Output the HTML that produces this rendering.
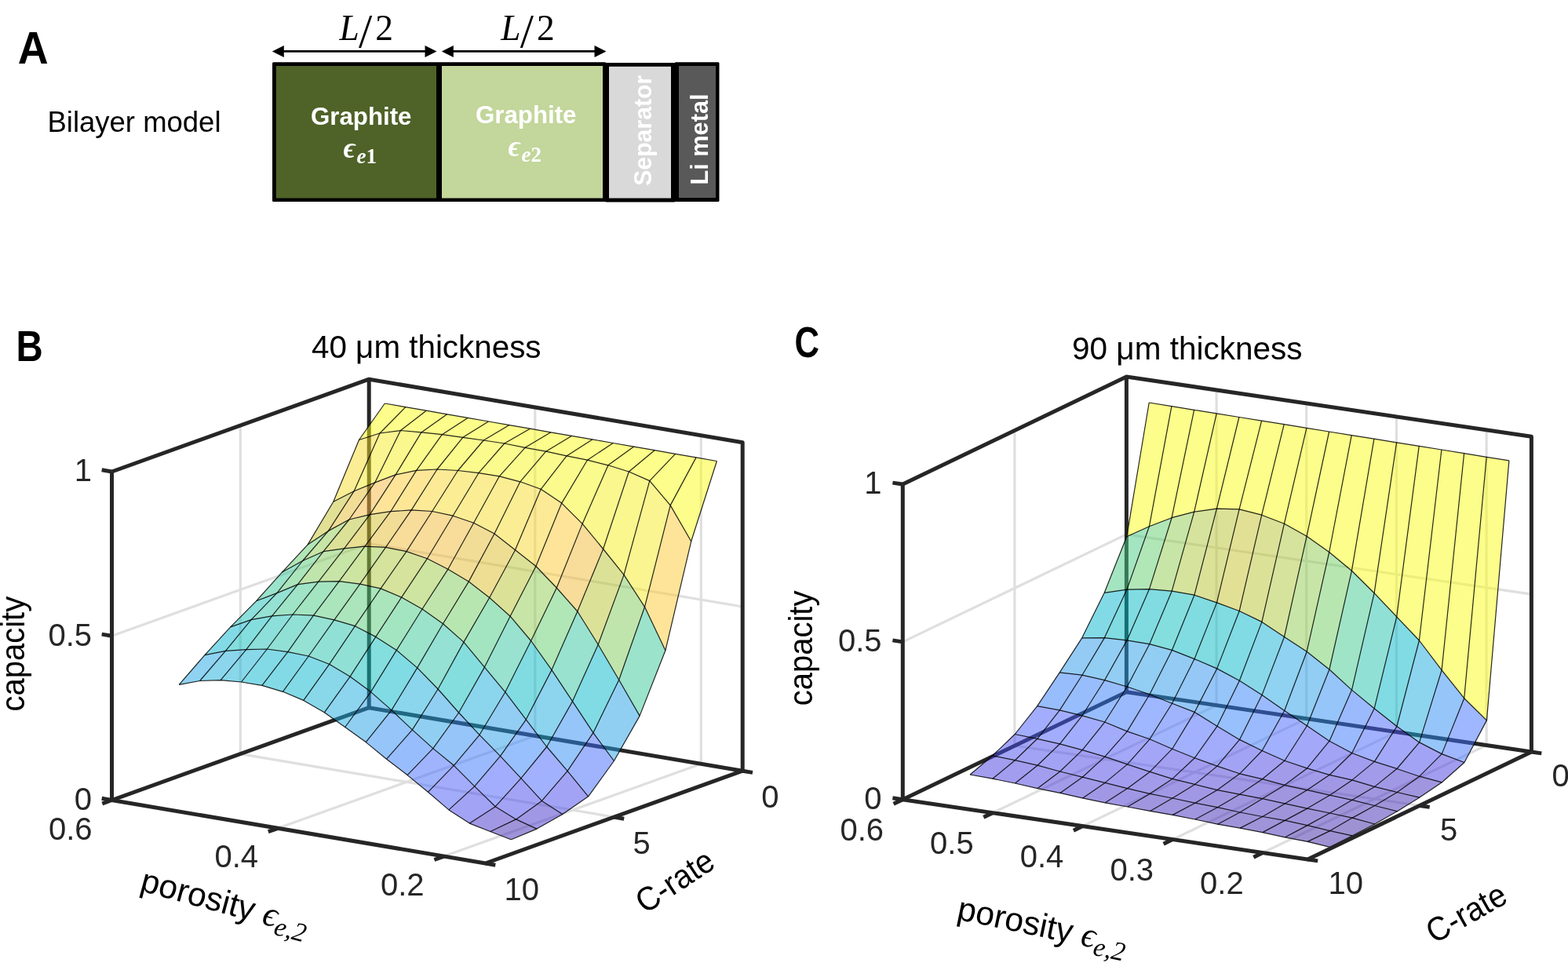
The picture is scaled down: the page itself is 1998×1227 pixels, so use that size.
<!DOCTYPE html><html><head><meta charset="utf-8"><title>Bilayer model capacity</title><style>html,body{margin:0;padding:0;background:#fff;}svg{display:block;}</style></head><body>
<svg width="1998" height="1227" viewBox="0 0 1998 1227">
<rect x="0" y="0" width="1998" height="1227" fill="#fff"/>
<text x="22.7" y="81.3" font-family="'Liberation Sans', Arial, sans-serif" font-weight="bold" font-size="56.5" textLength="38.9" lengthAdjust="spacingAndGlyphs">A</text>
<text x="60.5" y="168.3" font-family="'Liberation Sans', Arial, sans-serif" font-size="36.6" textLength="221" lengthAdjust="spacingAndGlyphs">Bilayer model</text>
<text font-family="'Liberation Serif', serif" font-size="45.4" y="50.8"><tspan x="432.5" font-style="italic">L</tspan><tspan x="457" font-size="62" dy="9.2">/</tspan><tspan x="478.2" dy="-9.2">2</tspan></text>
<text font-family="'Liberation Serif', serif" font-size="45.4" y="50.8"><tspan x="638.2" font-style="italic">L</tspan><tspan x="662.7" font-size="62" dy="9.2">/</tspan><tspan x="683.9" dy="-9.2">2</tspan></text>
<line x1="356.8" y1="65.4" x2="546.5" y2="65.4" stroke="#000" stroke-width="2.8"/>
<polygon points="346.8,65.4 361.8,57.9 361.8,72.9" fill="#000"/>
<polygon points="556.5,65.4 541.5,57.9 541.5,72.9" fill="#000"/>
<line x1="572.8" y1="65.4" x2="762.5" y2="65.4" stroke="#000" stroke-width="2.8"/>
<polygon points="562.8,65.4 577.8,57.9 577.8,72.9" fill="#000"/>
<polygon points="772.5,65.4 757.5,57.9 757.5,72.9" fill="#000"/>
<rect x="347" y="79.3" width="425.5" height="177.8" rx="1.5" fill="#000"/>
<rect x="771" y="80" width="89.5" height="177.5" rx="1.5" fill="#000"/>
<rect x="859.5" y="79.3" width="57" height="177.8" rx="1.5" fill="#000"/>
<rect x="351.8" y="84" width="204.2" height="168.5" fill="#4f6228"/>
<rect x="563" y="84" width="205" height="168.5" fill="#c3d69b"/>
<rect x="776" y="84.8" width="79" height="167.7" fill="#d9d9d9"/>
<rect x="865" y="84" width="47" height="168" fill="#595959"/>
<text x="396" y="159.1" font-family="'Liberation Sans', Arial, sans-serif" font-weight="bold" font-size="31.3" fill="#fff" textLength="128.5" lengthAdjust="spacingAndGlyphs">Graphite</text>
<text x="606" y="157.1" font-family="'Liberation Sans', Arial, sans-serif" font-weight="bold" font-size="31.3" fill="#fff" textLength="128.5" lengthAdjust="spacingAndGlyphs">Graphite</text>
<text x="437.6" y="201" font-family="'Liberation Serif', serif" font-weight="bold" font-size="37" fill="#fff"><tspan font-style="italic">ϵ</tspan><tspan font-size="27" dy="7.2" dx="1" font-style="italic">e</tspan><tspan font-size="27">1</tspan></text>
<text x="647.6" y="199" font-family="'Liberation Serif', serif" font-weight="bold" font-size="37" fill="#fff"><tspan font-style="italic">ϵ</tspan><tspan font-size="27" dy="7.2" dx="1" font-style="italic">e</tspan><tspan font-size="27">2</tspan></text>
<text transform="translate(830,236.8) rotate(-90)" font-family="'Liberation Sans', Arial, sans-serif" font-weight="bold" font-size="31.3" fill="#fff" textLength="141" lengthAdjust="spacingAndGlyphs">Separator</text>
<text transform="translate(902.2,235.5) rotate(-90)" font-family="'Liberation Sans', Arial, sans-serif" font-weight="bold" font-size="31.3" fill="#fff" textLength="116" lengthAdjust="spacingAndGlyphs">Li metal</text>
<g stroke-linecap="butt"><line x1="306.3" y1="960.6" x2="306.3" y2="542.1" stroke="#dfdfdf" stroke-width="3.2"/><line x1="470.2" y1="692.5" x2="142.5" y2="810.2" stroke="#dfdfdf" stroke-width="3.2"/><line x1="681.8" y1="937.5" x2="681.8" y2="519" stroke="#dfdfdf" stroke-width="3.2"/><line x1="893.3" y1="973.3" x2="893.3" y2="554.8" stroke="#dfdfdf" stroke-width="3.2"/><line x1="470.2" y1="692.5" x2="946.2" y2="773" stroke="#dfdfdf" stroke-width="3.2"/><line x1="681.8" y1="937.5" x2="354.1" y2="1055.3" stroke="#dfdfdf" stroke-width="3.2"/><line x1="893.3" y1="973.3" x2="565.6" y2="1091.1" stroke="#dfdfdf" stroke-width="3.2"/><line x1="306.3" y1="960.6" x2="782.4" y2="1041.1" stroke="#dfdfdf" stroke-width="3.2"/></g>
<polyline points="142.5,1019.5 470.2,901.7 946.2,982.2" fill="none" stroke="#262626" stroke-width="5.0" stroke-linejoin="round"/><polyline points="142.5,601 470.2,483.2 946.2,563.7 946.2,982.2" fill="none" stroke="#262626" stroke-width="5.0" stroke-linejoin="round"/><line x1="470.2" y1="901.7" x2="470.2" y2="483.2" stroke="#262626" stroke-width="5.0"/>
<g fill-opacity="0.5" stroke="none"><polygon points="490.3,514 516.8,518.6 484,552 457.5,560.5" fill="#f9fb15"/><polygon points="516.8,518.6 543.2,523.2 510.4,548.5 484,552" fill="#f9fb15"/><polygon points="543.2,523.2 569.7,527.8 536.9,550.9 510.4,548.5" fill="#f9fb15"/><polygon points="569.7,527.8 596.1,532.4 563.3,553.7 536.9,550.9" fill="#f9fb15"/><polygon points="596.1,532.4 622.5,537 589.8,557.3 563.3,553.7" fill="#f9fb15"/><polygon points="622.5,537 649,541.6 616.2,561 589.8,557.3" fill="#f9fb15"/><polygon points="649,541.6 675.4,546.2 642.7,565 616.2,561" fill="#f9fb15"/><polygon points="675.4,546.2 701.9,550.8 669.1,570.3 642.7,565" fill="#f9fb15"/><polygon points="701.9,550.8 728.3,555.4 695.6,575.2 669.1,570.3" fill="#f9fb15"/><polygon points="728.3,555.4 754.8,559.9 722,580.9 695.6,575.2" fill="#f9fb15"/><polygon points="754.8,559.9 781.2,564.5 748.4,586.2 722,580.9" fill="#f9fb15"/><polygon points="781.2,564.5 807.7,569.1 774.9,592.8 748.4,586.2" fill="#f9fb15"/><polygon points="807.7,569.1 834.1,573.7 801.3,601 774.9,592.8" fill="#f9fb15"/><polygon points="834.1,573.7 860.5,578.3 827.8,612.6 801.3,601" fill="#f9fb15"/><polygon points="860.5,578.3 887,582.9 854.2,643.9 827.8,612.6" fill="#f9fb15"/><polygon points="887,582.9 913.4,587.5 880.7,689.8 854.2,643.9" fill="#f9fb15"/><polygon points="457.5,560.5 484,552 451.2,625.7 424.8,639.2" fill="#f7dc2a"/><polygon points="484,552 510.4,548.5 477.7,614.9 451.2,625.7" fill="#f5e924"/><polygon points="510.4,548.5 536.9,550.9 504.1,604.9 477.7,614.9" fill="#f6ef20"/><polygon points="536.9,550.9 563.3,553.7 530.6,599.4 504.1,604.9" fill="#f7f51b"/><polygon points="563.3,553.7 589.8,557.3 557,598 530.6,599.4" fill="#f7f51b"/><polygon points="589.8,557.3 616.2,561 583.5,599.5 557,598" fill="#f7f51b"/><polygon points="616.2,561 642.7,565 609.9,602.7 583.5,599.5" fill="#f7f51b"/><polygon points="642.7,565 669.1,570.3 636.3,606.8 609.9,602.7" fill="#f7f51b"/><polygon points="669.1,570.3 695.6,575.2 662.8,613.8 636.3,606.8" fill="#f7f51b"/><polygon points="695.6,575.2 722,580.9 689.2,623.3 662.8,613.8" fill="#f7f51b"/><polygon points="722,580.9 748.4,586.2 715.7,641.1 689.2,623.3" fill="#f7f51b"/><polygon points="748.4,586.2 774.9,592.8 742.1,667.4 715.7,641.1" fill="#f7f51b"/><polygon points="774.9,592.8 801.3,601 768.6,699.5 742.1,667.4" fill="#f6ef20"/><polygon points="801.3,601 827.8,612.6 795,732.4 768.6,699.5" fill="#f6ef20"/><polygon points="827.8,612.6 854.2,643.9 821.5,773.3 795,732.4" fill="#f5e924"/><polygon points="854.2,643.9 880.7,689.8 847.9,828.8 821.5,773.3" fill="#fec934"/><polygon points="424.8,639.2 451.2,625.7 418.5,676.4 392,694.1" fill="#c5c22a"/><polygon points="451.2,625.7 477.7,614.9 444.9,662 418.5,676.4" fill="#e6bb2d"/><polygon points="477.7,614.9 504.1,604.9 471.3,655.6 444.9,662" fill="#f8ba3d"/><polygon points="504.1,604.9 530.6,599.4 497.8,651.7 471.3,655.6" fill="#fec934"/><polygon points="530.6,599.4 557,598 524.2,649.9 497.8,651.7" fill="#fccf30"/><polygon points="557,598 583.5,599.5 550.7,651.5 524.2,649.9" fill="#fad62d"/><polygon points="583.5,599.5 609.9,602.7 577.1,657.2 550.7,651.5" fill="#f7dc2a"/><polygon points="609.9,602.7 636.3,606.8 603.6,666.3 577.1,657.2" fill="#f7dc2a"/><polygon points="636.3,606.8 662.8,613.8 630,680 603.6,666.3" fill="#f7dc2a"/><polygon points="662.8,613.8 689.2,623.3 656.5,700.8 630,680" fill="#f7dc2a"/><polygon points="689.2,623.3 715.7,641.1 682.9,721.5 656.5,700.8" fill="#fad62d"/><polygon points="715.7,641.1 742.1,667.4 709.3,749 682.9,721.5" fill="#fec934"/><polygon points="742.1,667.4 768.6,699.5 735.8,779 709.3,749" fill="#f0ba36"/><polygon points="768.6,699.5 795,732.4 762.2,821.2 735.8,779" fill="#b9c431"/><polygon points="795,732.4 821.5,773.3 788.7,866.2 762.2,821.2" fill="#81cc59"/><polygon points="821.5,773.3 847.9,828.8 815.1,912.1 788.7,866.2" fill="#37c897"/><polygon points="392,694.1 418.5,676.4 385.7,714.5 359.2,729.3" fill="#64cd6f"/><polygon points="418.5,676.4 444.9,662 412.1,702.7 385.7,714.5" fill="#8fcb4e"/><polygon points="444.9,662 471.3,655.6 438.6,698.8 412.1,702.7" fill="#b9c431"/><polygon points="471.3,655.6 497.8,651.7 465,696.2 438.6,698.8" fill="#d1bf27"/><polygon points="497.8,651.7 524.2,649.9 491.5,697.3 465,696.2" fill="#e6bb2d"/><polygon points="524.2,649.9 550.7,651.5 517.9,702.6 491.5,697.3" fill="#f0ba36"/><polygon points="550.7,651.5 577.1,657.2 544.4,711.7 517.9,702.6" fill="#f0ba36"/><polygon points="577.1,657.2 603.6,666.3 570.8,725.3 544.4,711.7" fill="#f0ba36"/><polygon points="603.6,666.3 630,680 597.2,741.1 570.8,725.3" fill="#e6bb2d"/><polygon points="630,680 656.5,700.8 623.7,761.5 597.2,741.1" fill="#dcbd29"/><polygon points="656.5,700.8 682.9,721.5 650.1,785.2 623.7,761.5" fill="#b9c431"/><polygon points="682.9,721.5 709.3,749 676.6,816.5 650.1,785.2" fill="#8fcb4e"/><polygon points="709.3,749 735.8,779 703,853.6 676.6,816.5" fill="#64cd6f"/><polygon points="735.8,779 762.2,821.2 729.5,893.6 703,853.6" fill="#31c69f"/><polygon points="762.2,821.2 788.7,866.2 755.9,933.7 729.5,893.6" fill="#01b8ca"/><polygon points="788.7,866.2 815.1,912.1 782.4,969.5 755.9,933.7" fill="#23a0e5"/><polygon points="359.2,729.3 385.7,714.5 352.9,755.6 326.5,765.8" fill="#37c897"/><polygon points="385.7,714.5 412.1,702.7 379.4,744.6 352.9,755.6" fill="#57cc7a"/><polygon points="412.1,702.7 438.6,698.8 405.8,741.1 379.4,744.6" fill="#81cc59"/><polygon points="438.6,698.8 465,696.2 432.2,740.6 405.8,741.1" fill="#8fcb4e"/><polygon points="465,696.2 491.5,697.3 458.7,744.2 432.2,740.6" fill="#9dc943"/><polygon points="491.5,697.3 517.9,702.6 485.1,749.9 458.7,744.2" fill="#abc739"/><polygon points="517.9,702.6 544.4,711.7 511.6,761.1 485.1,749.9" fill="#abc739"/><polygon points="544.4,711.7 570.8,725.3 538,776 511.6,761.1" fill="#9dc943"/><polygon points="570.8,725.3 597.2,741.1 564.5,794.8 538,776" fill="#81cc59"/><polygon points="597.2,741.1 623.7,761.5 590.9,818.1 564.5,794.8" fill="#72cd64"/><polygon points="623.7,761.5 650.1,785.2 617.4,850.1 590.9,818.1" fill="#4acb84"/><polygon points="650.1,785.2 676.6,816.5 643.8,881.8 617.4,850.1" fill="#31c69f"/><polygon points="676.6,816.5 703,853.6 670.3,916.8 643.8,881.8" fill="#02bac3"/><polygon points="703,853.6 729.5,893.6 696.7,951.5 670.3,916.8" fill="#1ca9df"/><polygon points="729.5,893.6 755.9,933.7 723.1,982.3 696.7,951.5" fill="#2d8cf3"/><polygon points="755.9,933.7 782.4,969.5 749.6,1014.8 723.1,982.3" fill="#4269fe"/><polygon points="326.5,765.8 352.9,755.6 320.1,789.6 293.7,798.9" fill="#19bfb6"/><polygon points="352.9,755.6 379.4,744.6 346.6,784.8 320.1,789.6" fill="#2cc4a7"/><polygon points="379.4,744.6 405.8,741.1 373,783 346.6,784.8" fill="#3fca8e"/><polygon points="405.8,741.1 432.2,740.6 399.5,784.2 373,783" fill="#4acb84"/><polygon points="432.2,740.6 458.7,744.2 425.9,789.9 399.5,784.2" fill="#57cc7a"/><polygon points="458.7,744.2 485.1,749.9 452.4,797.7 425.9,789.9" fill="#57cc7a"/><polygon points="485.1,749.9 511.6,761.1 478.8,811.4 452.4,797.7" fill="#57cc7a"/><polygon points="511.6,761.1 538,776 505.3,828.4 478.8,811.4" fill="#4acb84"/><polygon points="538,776 564.5,794.8 531.7,850.9 505.3,828.4" fill="#37c897"/><polygon points="564.5,794.8 590.9,818.1 558.1,878 531.7,850.9" fill="#2cc4a7"/><polygon points="590.9,818.1 617.4,850.1 584.6,908 558.1,878" fill="#0bbdbd"/><polygon points="617.4,850.1 643.8,881.8 611,936.3 584.6,908" fill="#18addb"/><polygon points="643.8,881.8 670.3,916.8 637.5,963.4 611,936.3" fill="#259be8"/><polygon points="670.3,916.8 696.7,951.5 663.9,991.7 637.5,963.4" fill="#2f81fa"/><polygon points="696.7,951.5 723.1,982.3 690.4,1020.4 663.9,991.7" fill="#4563fd"/><polygon points="723.1,982.3 749.6,1014.8 716.8,1037.5 690.4,1020.4" fill="#4747eb"/><polygon points="293.7,798.9 320.1,789.6 287.4,829.4 260.9,834.6" fill="#08b5d0"/><polygon points="320.1,789.6 346.6,784.8 313.8,827.6 287.4,829.4" fill="#0bbdbd"/><polygon points="346.6,784.8 373,783 340.3,827 313.8,827.6" fill="#19bfb6"/><polygon points="373,783 399.5,784.2 366.7,830.7 340.3,827" fill="#24c1ae"/><polygon points="399.5,784.2 425.9,789.9 393.2,836 366.7,830.7" fill="#2cc4a7"/><polygon points="425.9,789.9 452.4,797.7 419.6,846.3 393.2,836" fill="#24c1ae"/><polygon points="452.4,797.7 478.8,811.4 446,862.1 419.6,846.3" fill="#24c1ae"/><polygon points="478.8,811.4 505.3,828.4 472.5,881.6 446,862.1" fill="#0bbdbd"/><polygon points="505.3,828.4 531.7,850.9 498.9,904.9 472.5,881.6" fill="#01b8ca"/><polygon points="531.7,850.9 558.1,878 525.4,929.9 498.9,904.9" fill="#18addb"/><polygon points="558.1,878 584.6,908 551.8,953.6 525.4,929.9" fill="#23a0e5"/><polygon points="584.6,908 611,936.3 578.3,975.3 551.8,953.6" fill="#2d8cf3"/><polygon points="611,936.3 637.5,963.4 604.7,1001.9 578.3,975.3" fill="#3875fe"/><polygon points="637.5,963.4 663.9,991.7 631.2,1027.7 604.7,1001.9" fill="#465efb"/><polygon points="663.9,991.7 690.4,1020.4 657.6,1043.9 631.2,1027.7" fill="#4747eb"/><polygon points="690.4,1020.4 716.8,1037.5 684,1056.1 657.6,1043.9" fill="#4332cb"/><polygon points="260.9,834.6 287.4,829.4 254.6,867.5 228.2,872.3" fill="#20a5e3"/><polygon points="287.4,829.4 313.8,827.6 281.1,866.6 254.6,867.5" fill="#18addb"/><polygon points="313.8,827.6 340.3,827 307.5,869 281.1,866.6" fill="#12b1d6"/><polygon points="340.3,827 366.7,830.7 333.9,873.4 307.5,869" fill="#08b5d0"/><polygon points="366.7,830.7 393.2,836 360.4,881.3 333.9,873.4" fill="#08b5d0"/><polygon points="393.2,836 419.6,846.3 386.8,892.4 360.4,881.3" fill="#08b5d0"/><polygon points="419.6,846.3 446,862.1 413.3,907.8 386.8,892.4" fill="#12b1d6"/><polygon points="446,862.1 472.5,881.6 439.7,926.5 413.3,907.8" fill="#1ca9df"/><polygon points="472.5,881.6 498.9,904.9 466.2,945.6 439.7,926.5" fill="#23a0e5"/><polygon points="498.9,904.9 525.4,929.9 492.6,967.2 466.2,945.6" fill="#2d8cf3"/><polygon points="525.4,929.9 551.8,953.6 519.1,987.6 492.6,967.2" fill="#327cfc"/><polygon points="551.8,953.6 578.3,975.3 545.5,1009.2 519.1,987.6" fill="#4269fe"/><polygon points="578.3,975.3 604.7,1001.9 571.9,1031.9 545.5,1009.2" fill="#4758f8"/><polygon points="604.7,1001.9 631.2,1027.7 598.4,1049.1 571.9,1031.9" fill="#4747eb"/><polygon points="631.2,1027.7 657.6,1043.9 624.8,1059.5 598.4,1049.1" fill="#4332cb"/><polygon points="657.6,1043.9 684,1056.1 651.3,1069.8 624.8,1059.5" fill="#402ab4"/></g>
<g fill="none" stroke="#000" stroke-opacity="0.85" stroke-width="1.2" stroke-linejoin="round"><polyline points="490.3,514 516.8,518.6 543.2,523.2 569.7,527.8 596.1,532.4 622.5,537 649,541.6 675.4,546.2 701.9,550.8 728.3,555.4 754.8,559.9 781.2,564.5 807.7,569.1 834.1,573.7 860.5,578.3 887,582.9 913.4,587.5"/><polyline points="457.5,560.5 484,552 510.4,548.5 536.9,550.9 563.3,553.7 589.8,557.3 616.2,561 642.7,565 669.1,570.3 695.6,575.2 722,580.9 748.4,586.2 774.9,592.8 801.3,601 827.8,612.6 854.2,643.9 880.7,689.8"/><polyline points="424.8,639.2 451.2,625.7 477.7,614.9 504.1,604.9 530.6,599.4 557,598 583.5,599.5 609.9,602.7 636.3,606.8 662.8,613.8 689.2,623.3 715.7,641.1 742.1,667.4 768.6,699.5 795,732.4 821.5,773.3 847.9,828.8"/><polyline points="392,694.1 418.5,676.4 444.9,662 471.3,655.6 497.8,651.7 524.2,649.9 550.7,651.5 577.1,657.2 603.6,666.3 630,680 656.5,700.8 682.9,721.5 709.3,749 735.8,779 762.2,821.2 788.7,866.2 815.1,912.1"/><polyline points="359.2,729.3 385.7,714.5 412.1,702.7 438.6,698.8 465,696.2 491.5,697.3 517.9,702.6 544.4,711.7 570.8,725.3 597.2,741.1 623.7,761.5 650.1,785.2 676.6,816.5 703,853.6 729.5,893.6 755.9,933.7 782.4,969.5"/><polyline points="326.5,765.8 352.9,755.6 379.4,744.6 405.8,741.1 432.2,740.6 458.7,744.2 485.1,749.9 511.6,761.1 538,776 564.5,794.8 590.9,818.1 617.4,850.1 643.8,881.8 670.3,916.8 696.7,951.5 723.1,982.3 749.6,1014.8"/><polyline points="293.7,798.9 320.1,789.6 346.6,784.8 373,783 399.5,784.2 425.9,789.9 452.4,797.7 478.8,811.4 505.3,828.4 531.7,850.9 558.1,878 584.6,908 611,936.3 637.5,963.4 663.9,991.7 690.4,1020.4 716.8,1037.5"/><polyline points="260.9,834.6 287.4,829.4 313.8,827.6 340.3,827 366.7,830.7 393.2,836 419.6,846.3 446,862.1 472.5,881.6 498.9,904.9 525.4,929.9 551.8,953.6 578.3,975.3 604.7,1001.9 631.2,1027.7 657.6,1043.9 684,1056.1"/><polyline points="228.2,872.3 254.6,867.5 281.1,866.6 307.5,869 333.9,873.4 360.4,881.3 386.8,892.4 413.3,907.8 439.7,926.5 466.2,945.6 492.6,967.2 519.1,987.6 545.5,1009.2 571.9,1031.9 598.4,1049.1 624.8,1059.5 651.3,1069.8"/><polyline points="490.3,514 457.5,560.5 424.8,639.2 392,694.1 359.2,729.3 326.5,765.8 293.7,798.9 260.9,834.6 228.2,872.3"/><polyline points="516.8,518.6 484,552 451.2,625.7 418.5,676.4 385.7,714.5 352.9,755.6 320.1,789.6 287.4,829.4 254.6,867.5"/><polyline points="543.2,523.2 510.4,548.5 477.7,614.9 444.9,662 412.1,702.7 379.4,744.6 346.6,784.8 313.8,827.6 281.1,866.6"/><polyline points="569.7,527.8 536.9,550.9 504.1,604.9 471.3,655.6 438.6,698.8 405.8,741.1 373,783 340.3,827 307.5,869"/><polyline points="596.1,532.4 563.3,553.7 530.6,599.4 497.8,651.7 465,696.2 432.2,740.6 399.5,784.2 366.7,830.7 333.9,873.4"/><polyline points="622.5,537 589.8,557.3 557,598 524.2,649.9 491.5,697.3 458.7,744.2 425.9,789.9 393.2,836 360.4,881.3"/><polyline points="649,541.6 616.2,561 583.5,599.5 550.7,651.5 517.9,702.6 485.1,749.9 452.4,797.7 419.6,846.3 386.8,892.4"/><polyline points="675.4,546.2 642.7,565 609.9,602.7 577.1,657.2 544.4,711.7 511.6,761.1 478.8,811.4 446,862.1 413.3,907.8"/><polyline points="701.9,550.8 669.1,570.3 636.3,606.8 603.6,666.3 570.8,725.3 538,776 505.3,828.4 472.5,881.6 439.7,926.5"/><polyline points="728.3,555.4 695.6,575.2 662.8,613.8 630,680 597.2,741.1 564.5,794.8 531.7,850.9 498.9,904.9 466.2,945.6"/><polyline points="754.8,559.9 722,580.9 689.2,623.3 656.5,700.8 623.7,761.5 590.9,818.1 558.1,878 525.4,929.9 492.6,967.2"/><polyline points="781.2,564.5 748.4,586.2 715.7,641.1 682.9,721.5 650.1,785.2 617.4,850.1 584.6,908 551.8,953.6 519.1,987.6"/><polyline points="807.7,569.1 774.9,592.8 742.1,667.4 709.3,749 676.6,816.5 643.8,881.8 611,936.3 578.3,975.3 545.5,1009.2"/><polyline points="834.1,573.7 801.3,601 768.6,699.5 735.8,779 703,853.6 670.3,916.8 637.5,963.4 604.7,1001.9 571.9,1031.9"/><polyline points="860.5,578.3 827.8,612.6 795,732.4 762.2,821.2 729.5,893.6 696.7,951.5 663.9,991.7 631.2,1027.7 598.4,1049.1"/><polyline points="887,582.9 854.2,643.9 821.5,773.3 788.7,866.2 755.9,933.7 723.1,982.3 690.4,1020.4 657.6,1043.9 624.8,1059.5"/><polyline points="913.4,587.5 880.7,689.8 847.9,828.8 815.1,912.1 782.4,969.5 749.6,1014.8 716.8,1037.5 684,1056.1 651.3,1069.8"/></g>
<g stroke="#262626" stroke-width="5.0"><line x1="142.5" y1="1019.5" x2="129.7" y2="1017.3"/><line x1="142.5" y1="810.2" x2="129.7" y2="808.1"/><line x1="142.5" y1="601" x2="129.7" y2="598.8"/><line x1="142.5" y1="1019.5" x2="130.3" y2="1023.9"/><line x1="354.1" y1="1055.3" x2="341.8" y2="1059.7"/><line x1="565.6" y1="1091.1" x2="553.4" y2="1095.5"/><line x1="946.2" y1="982.2" x2="959" y2="984.4"/><line x1="782.4" y1="1041.1" x2="795.2" y2="1043.3"/><line x1="618.5" y1="1100" x2="631.3" y2="1102.2"/></g>
<polyline points="142.5,601 142.5,1019.5 618.5,1100 946.2,982.2" fill="none" stroke="#262626" stroke-width="5.0" stroke-linejoin="round"/>
<g font-family="'Liberation Sans', Arial, sans-serif" font-size="40" fill="#262626"><text x="117" y="1031.8" text-anchor="end">0</text><text x="117" y="822.5" text-anchor="end">0.5</text><text x="117" y="613.3" text-anchor="end">1</text><text x="117.5" y="1069.5" text-anchor="end">0.6</text><text x="329.1" y="1105.3" text-anchor="end">0.4</text><text x="540.6" y="1141.1" text-anchor="end">0.2</text><text x="970.2" y="1028.7">0</text><text x="806.4" y="1087.6">5</text><text x="642.5" y="1146.5">10</text></g>
<g stroke-linecap="butt"><line x1="1292.9" y1="950.2" x2="1292.9" y2="548.5" stroke="#dfdfdf" stroke-width="3.2"/><line x1="1435.4" y1="680.9" x2="1150.3" y2="817.9" stroke="#dfdfdf" stroke-width="3.2"/><line x1="1550.1" y1="898.7" x2="1550.1" y2="497" stroke="#dfdfdf" stroke-width="3.2"/><line x1="1664.7" y1="915.6" x2="1664.7" y2="513.9" stroke="#dfdfdf" stroke-width="3.2"/><line x1="1779.4" y1="932.6" x2="1779.4" y2="530.9" stroke="#dfdfdf" stroke-width="3.2"/><line x1="1894.1" y1="949.5" x2="1894.1" y2="547.8" stroke="#dfdfdf" stroke-width="3.2"/><line x1="1435.4" y1="680.9" x2="1951.4" y2="757.2" stroke="#dfdfdf" stroke-width="3.2"/><line x1="1550.1" y1="898.7" x2="1265" y2="1035.7" stroke="#dfdfdf" stroke-width="3.2"/><line x1="1664.7" y1="915.6" x2="1379.6" y2="1052.6" stroke="#dfdfdf" stroke-width="3.2"/><line x1="1779.4" y1="932.6" x2="1494.3" y2="1069.6" stroke="#dfdfdf" stroke-width="3.2"/><line x1="1894.1" y1="949.5" x2="1609" y2="1086.5" stroke="#dfdfdf" stroke-width="3.2"/><line x1="1292.9" y1="950.2" x2="1808.9" y2="1026.5" stroke="#dfdfdf" stroke-width="3.2"/></g>
<polyline points="1150.3,1018.7 1435.4,881.7 1951.4,958" fill="none" stroke="#262626" stroke-width="5.0" stroke-linejoin="round"/><polyline points="1150.3,617 1435.4,480 1951.4,556.3 1951.4,958" fill="none" stroke="#262626" stroke-width="5.0" stroke-linejoin="round"/><line x1="1435.4" y1="881.7" x2="1435.4" y2="480" stroke="#262626" stroke-width="5.0"/>
<g fill-opacity="0.5" stroke="none"><polygon points="1464.2,513 1492.9,517.6 1464.4,670.8 1435.7,683.8" fill="#f9fb15"/><polygon points="1492.9,517.6 1521.6,522.3 1493.1,659.7 1464.4,670.8" fill="#f9fb15"/><polygon points="1521.6,522.3 1550.2,526.9 1521.7,652.1 1493.1,659.7" fill="#f9fb15"/><polygon points="1550.2,526.9 1578.9,531.5 1550.4,648.1 1521.7,652.1" fill="#f9fb15"/><polygon points="1578.9,531.5 1607.6,536.1 1579.1,648.9 1550.4,648.1" fill="#f9fb15"/><polygon points="1607.6,536.1 1636.2,540.7 1607.7,656.2 1579.1,648.9" fill="#f9fb15"/><polygon points="1636.2,540.7 1664.9,545.3 1636.4,667.3 1607.7,656.2" fill="#f9fb15"/><polygon points="1664.9,545.3 1693.6,550 1665.1,683.2 1636.4,667.3" fill="#f9fb15"/><polygon points="1693.6,550 1722.2,554.6 1693.7,703.5 1665.1,683.2" fill="#f9fb15"/><polygon points="1722.2,554.6 1750.9,559.2 1722.4,727.2 1693.7,703.5" fill="#f9fb15"/><polygon points="1750.9,559.2 1779.6,563.8 1751.1,755.7 1722.4,727.2" fill="#f9fb15"/><polygon points="1779.6,563.8 1808.2,568.4 1779.7,785.9 1751.1,755.7" fill="#f9fb15"/><polygon points="1808.2,568.4 1836.9,573 1808.4,816 1779.7,785.9" fill="#f9fb15"/><polygon points="1836.9,573 1865.6,577.7 1837.1,853.8 1808.4,816" fill="#f9fb15"/><polygon points="1865.6,577.7 1894.2,582.3 1865.7,889.7 1837.1,853.8" fill="#f9fb15"/><polygon points="1894.2,582.3 1922.9,586.9 1894.4,917.9 1865.7,889.7" fill="#f9fb15"/><polygon points="1435.7,683.8 1464.4,670.8 1435.9,751.1 1407.2,755.3" fill="#4acb84"/><polygon points="1464.4,670.8 1493.1,659.7 1464.5,750.6 1435.9,751.1" fill="#64cd6f"/><polygon points="1493.1,659.7 1521.7,652.1 1493.2,753.2 1464.5,750.6" fill="#8fcb4e"/><polygon points="1521.7,652.1 1550.4,648.1 1521.9,758.2 1493.2,753.2" fill="#abc739"/><polygon points="1550.4,648.1 1579.1,648.9 1550.5,767.9 1521.9,758.2" fill="#b9c431"/><polygon points="1579.1,648.9 1607.7,656.2 1579.2,778.5 1550.5,767.9" fill="#c5c22a"/><polygon points="1607.7,656.2 1636.4,667.3 1607.9,792.4 1579.2,778.5" fill="#b9c431"/><polygon points="1636.4,667.3 1665.1,683.2 1636.5,811.5 1607.9,792.4" fill="#abc739"/><polygon points="1665.1,683.2 1693.7,703.5 1665.2,830.2 1636.5,811.5" fill="#8fcb4e"/><polygon points="1693.7,703.5 1722.4,727.2 1693.9,853 1665.2,830.2" fill="#72cd64"/><polygon points="1722.4,727.2 1751.1,755.7 1722.5,879.1 1693.9,853" fill="#3fca8e"/><polygon points="1751.1,755.7 1779.7,785.9 1751.2,902.7 1722.5,879.1" fill="#24c1ae"/><polygon points="1779.7,785.9 1808.4,816 1779.9,925.5 1751.2,902.7" fill="#01b8ca"/><polygon points="1808.4,816 1837.1,853.8 1808.6,945.9 1779.9,925.5" fill="#1ca9df"/><polygon points="1837.1,853.8 1865.7,889.7 1837.2,960.6 1808.6,945.9" fill="#2d8cf3"/><polygon points="1865.7,889.7 1894.4,917.9 1865.9,971.5 1837.2,960.6" fill="#3e6fff"/><polygon points="1407.2,755.3 1435.9,751.1 1407.4,812.6 1378.7,812.8" fill="#08b5d0"/><polygon points="1435.9,751.1 1464.5,750.6 1436,815.9 1407.4,812.6" fill="#02bac3"/><polygon points="1464.5,750.6 1493.2,753.2 1464.7,820.7 1436,815.9" fill="#02bac3"/><polygon points="1493.2,753.2 1521.9,758.2 1493.4,828.4 1464.7,820.7" fill="#0bbdbd"/><polygon points="1521.9,758.2 1550.5,767.9 1522,839.6 1493.4,828.4" fill="#02bac3"/><polygon points="1550.5,767.9 1579.2,778.5 1550.7,851.9 1522,839.6" fill="#02bac3"/><polygon points="1579.2,778.5 1607.9,792.4 1579.4,867.3 1550.7,851.9" fill="#01b8ca"/><polygon points="1607.9,792.4 1636.5,811.5 1608,885.6 1579.4,867.3" fill="#12b1d6"/><polygon points="1636.5,811.5 1665.2,830.2 1636.7,905.5 1608,885.6" fill="#20a5e3"/><polygon points="1665.2,830.2 1693.9,853 1665.4,924.7 1636.7,905.5" fill="#259be8"/><polygon points="1693.9,853 1722.5,879.1 1694,944.2 1665.4,924.7" fill="#2d8cf3"/><polygon points="1722.5,879.1 1751.2,902.7 1722.7,959.5 1694,944.2" fill="#3875fe"/><polygon points="1751.2,902.7 1779.9,925.5 1751.4,970.4 1722.7,959.5" fill="#4563fd"/><polygon points="1779.9,925.5 1808.6,945.9 1780,979.5 1751.4,970.4" fill="#4852f4"/><polygon points="1808.6,945.9 1837.2,960.6 1808.7,989.2 1780,979.5" fill="#4747eb"/><polygon points="1837.2,960.6 1865.9,971.5 1837.4,996.8 1808.7,989.2" fill="#463cde"/><polygon points="1378.7,812.8 1407.4,812.6 1378.9,860.2 1350.2,856.9" fill="#2797eb"/><polygon points="1407.4,812.6 1436,815.9 1407.5,866.7 1378.9,860.2" fill="#259be8"/><polygon points="1436,815.9 1464.7,820.7 1436.2,875 1407.5,866.7" fill="#259be8"/><polygon points="1464.7,820.7 1493.4,828.4 1464.9,884.8 1436.2,875" fill="#259be8"/><polygon points="1493.4,828.4 1522,839.6 1493.5,896.3 1464.9,884.8" fill="#2797eb"/><polygon points="1522,839.6 1550.7,851.9 1522.2,907.4 1493.5,896.3" fill="#2b91ef"/><polygon points="1550.7,851.9 1579.4,867.3 1550.9,925.3 1522.2,907.4" fill="#2d8cf3"/><polygon points="1579.4,867.3 1608,885.6 1579.5,942.4 1550.9,925.3" fill="#2f81fa"/><polygon points="1608,885.6 1636.7,905.5 1608.2,956.5 1579.5,942.4" fill="#3875fe"/><polygon points="1636.7,905.5 1665.4,924.7 1636.9,969.2 1608.2,956.5" fill="#4563fd"/><polygon points="1665.4,924.7 1694,944.2 1665.5,978.9 1636.9,969.2" fill="#4852f4"/><polygon points="1694,944.2 1722.7,959.5 1694.2,987.3 1665.5,978.9" fill="#4747eb"/><polygon points="1722.7,959.5 1751.4,970.4 1722.9,993.9 1694.2,987.3" fill="#463cde"/><polygon points="1751.4,970.4 1780,979.5 1751.5,1002.4 1722.9,993.9" fill="#4537d5"/><polygon points="1780,979.5 1808.7,989.2 1780.2,1009.5 1751.5,1002.4" fill="#4332cb"/><polygon points="1808.7,989.2 1837.4,996.8 1808.9,1016.1 1780.2,1009.5" fill="#422ec0"/><polygon points="1350.2,856.9 1378.9,860.2 1350.3,904.9 1321.7,899.7" fill="#327cfc"/><polygon points="1378.9,860.2 1407.5,866.7 1379,911.8 1350.3,904.9" fill="#327cfc"/><polygon points="1407.5,866.7 1436.2,875 1407.7,920 1379,911.8" fill="#327cfc"/><polygon points="1436.2,875 1464.9,884.8 1436.3,931.9 1407.7,920" fill="#3875fe"/><polygon points="1464.9,884.8 1493.5,896.3 1465,941.8 1436.3,931.9" fill="#3e6fff"/><polygon points="1493.5,896.3 1522.2,907.4 1493.7,954.2 1465,941.8" fill="#4269fe"/><polygon points="1522.2,907.4 1550.9,925.3 1522.3,965.7 1493.7,954.2" fill="#4563fd"/><polygon points="1550.9,925.3 1579.5,942.4 1551,976.1 1522.3,965.7" fill="#4758f8"/><polygon points="1579.5,942.4 1608.2,956.5 1579.7,985.8 1551,976.1" fill="#4747eb"/><polygon points="1608.2,956.5 1636.9,969.2 1608.4,992.7 1579.7,985.8" fill="#4741e5"/><polygon points="1636.9,969.2 1665.5,978.9 1637,1000.3 1608.4,992.7" fill="#4537d5"/><polygon points="1665.5,978.9 1694.2,987.3 1665.7,1006.6 1637,1000.3" fill="#4537d5"/><polygon points="1694.2,987.3 1722.9,993.9 1694.4,1013.2 1665.7,1006.6" fill="#4332cb"/><polygon points="1722.9,993.9 1751.5,1002.4 1723,1019.3 1694.4,1013.2" fill="#422ec0"/><polygon points="1751.5,1002.4 1780.2,1009.5 1751.7,1026.5 1723,1019.3" fill="#422ec0"/><polygon points="1780.2,1009.5 1808.9,1016.1 1780.4,1033.7 1751.7,1026.5" fill="#402ab4"/><polygon points="1321.7,899.7 1350.3,904.9 1321.8,941.3 1293.2,935.5" fill="#465efb"/><polygon points="1350.3,904.9 1379,911.8 1350.5,947.8 1321.8,941.3" fill="#465efb"/><polygon points="1379,911.8 1407.7,920 1379.2,955.6 1350.5,947.8" fill="#465efb"/><polygon points="1407.7,920 1436.3,931.9 1407.8,964.1 1379.2,955.6" fill="#4758f8"/><polygon points="1436.3,931.9 1465,941.8 1436.5,973.9 1407.8,964.1" fill="#4852f4"/><polygon points="1465,941.8 1493.7,954.2 1465.2,983.4 1436.5,973.9" fill="#484df0"/><polygon points="1493.7,954.2 1522.3,965.7 1493.8,992.4 1465.2,983.4" fill="#4741e5"/><polygon points="1522.3,965.7 1551,976.1 1522.5,999.4 1493.8,992.4" fill="#463cde"/><polygon points="1551,976.1 1579.7,985.8 1551.2,1006.6 1522.5,999.4" fill="#4537d5"/><polygon points="1579.7,985.8 1608.4,992.7 1579.8,1012.1 1551.2,1006.6" fill="#4332cb"/><polygon points="1608.4,992.7 1637,1000.3 1608.5,1017.7 1579.8,1012.1" fill="#4332cb"/><polygon points="1637,1000.3 1665.7,1006.6 1637.2,1023.9 1608.5,1017.7" fill="#422ec0"/><polygon points="1665.7,1006.6 1694.4,1013.2 1665.8,1030.1 1637.2,1023.9" fill="#422ec0"/><polygon points="1694.4,1013.2 1723,1019.3 1694.5,1036 1665.8,1030.1" fill="#422ec0"/><polygon points="1723,1019.3 1751.7,1026.5 1723.2,1042.1 1694.5,1036" fill="#402ab4"/><polygon points="1751.7,1026.5 1780.4,1033.7 1751.8,1050 1723.2,1042.1" fill="#402ab4"/><polygon points="1293.2,935.5 1321.8,941.3 1293.3,968.7 1264.7,962.8" fill="#484df0"/><polygon points="1321.8,941.3 1350.5,947.8 1322,975.2 1293.3,968.7" fill="#4747eb"/><polygon points="1350.5,947.8 1379.2,955.6 1350.7,983 1322,975.2" fill="#4747eb"/><polygon points="1379.2,955.6 1407.8,964.1 1379.3,990.2 1350.7,983" fill="#4741e5"/><polygon points="1407.8,964.1 1436.5,973.9 1408,997.4 1379.3,990.2" fill="#4741e5"/><polygon points="1436.5,973.9 1465.2,983.4 1436.7,1004.6 1408,997.4" fill="#463cde"/><polygon points="1465.2,983.4 1493.8,992.4 1465.3,1011.3 1436.7,1004.6" fill="#4537d5"/><polygon points="1493.8,992.4 1522.5,999.4 1494,1017 1465.3,1011.3" fill="#4332cb"/><polygon points="1522.5,999.4 1551.2,1006.6 1522.7,1023.2 1494,1017" fill="#4332cb"/><polygon points="1551.2,1006.6 1579.8,1012.1 1551.3,1028.7 1522.7,1023.2" fill="#422ec0"/><polygon points="1579.8,1012.1 1608.5,1017.7 1580,1035 1551.3,1028.7" fill="#422ec0"/><polygon points="1608.5,1017.7 1637.2,1023.9 1608.7,1040.5 1580,1035" fill="#422ec0"/><polygon points="1637.2,1023.9 1665.8,1030.1 1637.3,1045.4 1608.7,1040.5" fill="#402ab4"/><polygon points="1665.8,1030.1 1694.5,1036 1666,1051.6 1637.3,1045.4" fill="#402ab4"/><polygon points="1694.5,1036 1723.2,1042.1 1694.7,1058.6 1666,1051.6" fill="#402ab4"/><polygon points="1723.2,1042.1 1751.8,1050 1723.3,1064.8 1694.7,1058.6" fill="#3e26a8"/><polygon points="1264.7,962.8 1293.3,968.7 1264.8,992.2 1236.1,987" fill="#463cde"/><polygon points="1293.3,968.7 1322,975.2 1293.5,998 1264.8,992.2" fill="#463cde"/><polygon points="1322,975.2 1350.7,983 1322.1,1004.6 1293.5,998" fill="#463cde"/><polygon points="1350.7,983 1379.3,990.2 1350.8,1010.4 1322.1,1004.6" fill="#4537d5"/><polygon points="1379.3,990.2 1408,997.4 1379.5,1016.9 1350.8,1010.4" fill="#4537d5"/><polygon points="1408,997.4 1436.7,1004.6 1408.2,1022.8 1379.5,1016.9" fill="#4332cb"/><polygon points="1436.7,1004.6 1465.3,1011.3 1436.8,1028 1408.2,1022.8" fill="#4332cb"/><polygon points="1465.3,1011.3 1494,1017 1465.5,1033.4 1436.8,1028" fill="#422ec0"/><polygon points="1494,1017 1522.7,1023.2 1494.2,1038.4 1465.5,1033.4" fill="#422ec0"/><polygon points="1522.7,1023.2 1551.3,1028.7 1522.8,1044 1494.2,1038.4" fill="#422ec0"/><polygon points="1551.3,1028.7 1580,1035 1551.5,1050.2 1522.8,1044" fill="#402ab4"/><polygon points="1580,1035 1608.7,1040.5 1580.2,1055.1 1551.5,1050.2" fill="#402ab4"/><polygon points="1608.7,1040.5 1637.3,1045.4 1608.8,1060.6 1580.2,1055.1" fill="#402ab4"/><polygon points="1637.3,1045.4 1666,1051.6 1637.5,1066.8 1608.8,1060.6" fill="#402ab4"/><polygon points="1666,1051.6 1694.7,1058.6 1666.2,1072.4 1637.5,1066.8" fill="#3e26a8"/><polygon points="1694.7,1058.6 1723.3,1064.8 1694.8,1079.3 1666.2,1072.4" fill="#3e26a8"/></g>
<g fill="none" stroke="#000" stroke-opacity="0.85" stroke-width="1.2" stroke-linejoin="round"><polyline points="1464.2,513 1492.9,517.6 1521.6,522.3 1550.2,526.9 1578.9,531.5 1607.6,536.1 1636.2,540.7 1664.9,545.3 1693.6,550 1722.2,554.6 1750.9,559.2 1779.6,563.8 1808.2,568.4 1836.9,573 1865.6,577.7 1894.2,582.3 1922.9,586.9"/><polyline points="1435.7,683.8 1464.4,670.8 1493.1,659.7 1521.7,652.1 1550.4,648.1 1579.1,648.9 1607.7,656.2 1636.4,667.3 1665.1,683.2 1693.7,703.5 1722.4,727.2 1751.1,755.7 1779.7,785.9 1808.4,816 1837.1,853.8 1865.7,889.7 1894.4,917.9"/><polyline points="1407.2,755.3 1435.9,751.1 1464.5,750.6 1493.2,753.2 1521.9,758.2 1550.5,767.9 1579.2,778.5 1607.9,792.4 1636.5,811.5 1665.2,830.2 1693.9,853 1722.5,879.1 1751.2,902.7 1779.9,925.5 1808.6,945.9 1837.2,960.6 1865.9,971.5"/><polyline points="1378.7,812.8 1407.4,812.6 1436,815.9 1464.7,820.7 1493.4,828.4 1522,839.6 1550.7,851.9 1579.4,867.3 1608,885.6 1636.7,905.5 1665.4,924.7 1694,944.2 1722.7,959.5 1751.4,970.4 1780,979.5 1808.7,989.2 1837.4,996.8"/><polyline points="1350.2,856.9 1378.9,860.2 1407.5,866.7 1436.2,875 1464.9,884.8 1493.5,896.3 1522.2,907.4 1550.9,925.3 1579.5,942.4 1608.2,956.5 1636.9,969.2 1665.5,978.9 1694.2,987.3 1722.9,993.9 1751.5,1002.4 1780.2,1009.5 1808.9,1016.1"/><polyline points="1321.7,899.7 1350.3,904.9 1379,911.8 1407.7,920 1436.3,931.9 1465,941.8 1493.7,954.2 1522.3,965.7 1551,976.1 1579.7,985.8 1608.4,992.7 1637,1000.3 1665.7,1006.6 1694.4,1013.2 1723,1019.3 1751.7,1026.5 1780.4,1033.7"/><polyline points="1293.2,935.5 1321.8,941.3 1350.5,947.8 1379.2,955.6 1407.8,964.1 1436.5,973.9 1465.2,983.4 1493.8,992.4 1522.5,999.4 1551.2,1006.6 1579.8,1012.1 1608.5,1017.7 1637.2,1023.9 1665.8,1030.1 1694.5,1036 1723.2,1042.1 1751.8,1050"/><polyline points="1264.7,962.8 1293.3,968.7 1322,975.2 1350.7,983 1379.3,990.2 1408,997.4 1436.7,1004.6 1465.3,1011.3 1494,1017 1522.7,1023.2 1551.3,1028.7 1580,1035 1608.7,1040.5 1637.3,1045.4 1666,1051.6 1694.7,1058.6 1723.3,1064.8"/><polyline points="1236.1,987 1264.8,992.2 1293.5,998 1322.1,1004.6 1350.8,1010.4 1379.5,1016.9 1408.2,1022.8 1436.8,1028 1465.5,1033.4 1494.2,1038.4 1522.8,1044 1551.5,1050.2 1580.2,1055.1 1608.8,1060.6 1637.5,1066.8 1666.2,1072.4 1694.8,1079.3"/><polyline points="1464.2,513 1435.7,683.8 1407.2,755.3 1378.7,812.8 1350.2,856.9 1321.7,899.7 1293.2,935.5 1264.7,962.8 1236.1,987"/><polyline points="1492.9,517.6 1464.4,670.8 1435.9,751.1 1407.4,812.6 1378.9,860.2 1350.3,904.9 1321.8,941.3 1293.3,968.7 1264.8,992.2"/><polyline points="1521.6,522.3 1493.1,659.7 1464.5,750.6 1436,815.9 1407.5,866.7 1379,911.8 1350.5,947.8 1322,975.2 1293.5,998"/><polyline points="1550.2,526.9 1521.7,652.1 1493.2,753.2 1464.7,820.7 1436.2,875 1407.7,920 1379.2,955.6 1350.7,983 1322.1,1004.6"/><polyline points="1578.9,531.5 1550.4,648.1 1521.9,758.2 1493.4,828.4 1464.9,884.8 1436.3,931.9 1407.8,964.1 1379.3,990.2 1350.8,1010.4"/><polyline points="1607.6,536.1 1579.1,648.9 1550.5,767.9 1522,839.6 1493.5,896.3 1465,941.8 1436.5,973.9 1408,997.4 1379.5,1016.9"/><polyline points="1636.2,540.7 1607.7,656.2 1579.2,778.5 1550.7,851.9 1522.2,907.4 1493.7,954.2 1465.2,983.4 1436.7,1004.6 1408.2,1022.8"/><polyline points="1664.9,545.3 1636.4,667.3 1607.9,792.4 1579.4,867.3 1550.9,925.3 1522.3,965.7 1493.8,992.4 1465.3,1011.3 1436.8,1028"/><polyline points="1693.6,550 1665.1,683.2 1636.5,811.5 1608,885.6 1579.5,942.4 1551,976.1 1522.5,999.4 1494,1017 1465.5,1033.4"/><polyline points="1722.2,554.6 1693.7,703.5 1665.2,830.2 1636.7,905.5 1608.2,956.5 1579.7,985.8 1551.2,1006.6 1522.7,1023.2 1494.2,1038.4"/><polyline points="1750.9,559.2 1722.4,727.2 1693.9,853 1665.4,924.7 1636.9,969.2 1608.4,992.7 1579.8,1012.1 1551.3,1028.7 1522.8,1044"/><polyline points="1779.6,563.8 1751.1,755.7 1722.5,879.1 1694,944.2 1665.5,978.9 1637,1000.3 1608.5,1017.7 1580,1035 1551.5,1050.2"/><polyline points="1808.2,568.4 1779.7,785.9 1751.2,902.7 1722.7,959.5 1694.2,987.3 1665.7,1006.6 1637.2,1023.9 1608.7,1040.5 1580.2,1055.1"/><polyline points="1836.9,573 1808.4,816 1779.9,925.5 1751.4,970.4 1722.9,993.9 1694.4,1013.2 1665.8,1030.1 1637.3,1045.4 1608.8,1060.6"/><polyline points="1865.6,577.7 1837.1,853.8 1808.6,945.9 1780,979.5 1751.5,1002.4 1723,1019.3 1694.5,1036 1666,1051.6 1637.5,1066.8"/><polyline points="1894.2,582.3 1865.7,889.7 1837.2,960.6 1808.7,989.2 1780.2,1009.5 1751.7,1026.5 1723.2,1042.1 1694.7,1058.6 1666.2,1072.4"/><polyline points="1922.9,586.9 1894.4,917.9 1865.9,971.5 1837.4,996.8 1808.9,1016.1 1780.4,1033.7 1751.8,1050 1723.3,1064.8 1694.8,1079.3"/></g>
<g stroke="#262626" stroke-width="5.0"><line x1="1150.3" y1="1018.7" x2="1137.4" y2="1016.8"/><line x1="1150.3" y1="817.9" x2="1137.4" y2="815.9"/><line x1="1150.3" y1="617" x2="1137.4" y2="615.1"/><line x1="1150.3" y1="1018.7" x2="1138.6" y2="1024.3"/><line x1="1265" y1="1035.7" x2="1253.3" y2="1041.3"/><line x1="1379.6" y1="1052.6" x2="1367.9" y2="1058.3"/><line x1="1494.3" y1="1069.6" x2="1482.6" y2="1075.2"/><line x1="1609" y1="1086.5" x2="1597.3" y2="1092.2"/><line x1="1951.4" y1="958" x2="1964.3" y2="959.9"/><line x1="1808.9" y1="1026.5" x2="1821.7" y2="1028.4"/><line x1="1666.3" y1="1095" x2="1679.2" y2="1096.9"/></g>
<polyline points="1150.3,617 1150.3,1018.7 1666.3,1095 1951.4,958" fill="none" stroke="#262626" stroke-width="5.0" stroke-linejoin="round"/>
<g font-family="'Liberation Sans', Arial, sans-serif" font-size="40" fill="#262626"><text x="1123.5" y="1031" text-anchor="end">0</text><text x="1123.5" y="830.1" text-anchor="end">0.5</text><text x="1123.5" y="629.3" text-anchor="end">1</text><text x="1126" y="1071.1" text-anchor="end">0.6</text><text x="1240.7" y="1088.1" text-anchor="end">0.5</text><text x="1355.3" y="1105" text-anchor="end">0.4</text><text x="1470" y="1122" text-anchor="end">0.3</text><text x="1584.7" y="1138.9" text-anchor="end">0.2</text><text x="1977.6" y="1002.4">0</text><text x="1835.1" y="1070.9">5</text><text x="1692.5" y="1139.4">10</text></g>
<text x="20.6" y="460" font-family="'Liberation Sans', Arial, sans-serif" font-weight="bold" font-size="54.6" textLength="34.2" lengthAdjust="spacingAndGlyphs">B</text>
<text x="1012.5" y="454.8" font-family="'Liberation Sans', Arial, sans-serif" font-weight="bold" font-size="54.6" textLength="31.5" lengthAdjust="spacingAndGlyphs">C</text>
<text x="397" y="455.7" font-family="'Liberation Sans', Arial, sans-serif" font-size="40.6" textLength="292.5" lengthAdjust="spacingAndGlyphs">40 μm thickness</text>
<text x="1366" y="457.7" font-family="'Liberation Sans', Arial, sans-serif" font-size="40.6" textLength="293.5" lengthAdjust="spacingAndGlyphs">90 μm thickness</text>
<text transform="translate(30.6,906.6) rotate(-90)" font-family="'Liberation Sans', Arial, sans-serif" font-size="42.6" textLength="146.8" lengthAdjust="spacingAndGlyphs">capacity</text>
<text transform="translate(1034.5,899.3) rotate(-90)" font-family="'Liberation Sans', Arial, sans-serif" font-size="42.6" textLength="146.8" lengthAdjust="spacingAndGlyphs">capacity</text>
<text transform="translate(177,1134.5) rotate(15.2)" font-family="'Liberation Sans', Arial, sans-serif" font-size="42.6">porosity <tspan font-family="'Liberation Serif', serif" font-style="italic" font-size="45">ϵ</tspan><tspan font-family="'Liberation Serif', serif" font-style="italic" font-size="34" dy="9">e,2</tspan></text>
<text transform="translate(1218,1171) rotate(11.8)" font-family="'Liberation Sans', Arial, sans-serif" font-size="42.6">porosity <tspan font-family="'Liberation Serif', serif" font-style="italic" font-size="45">ϵ</tspan><tspan font-family="'Liberation Serif', serif" font-style="italic" font-size="34" dy="9">e,2</tspan></text>
<text transform="translate(822,1165) rotate(-33.5)" font-family="'Liberation Sans', Arial, sans-serif" font-size="42.6" textLength="110" lengthAdjust="spacingAndGlyphs">C-rate</text>
<text transform="translate(1827.6,1203) rotate(-29.5)" font-family="'Liberation Sans', Arial, sans-serif" font-size="42.6" textLength="110" lengthAdjust="spacingAndGlyphs">C-rate</text>
</svg></body></html>
